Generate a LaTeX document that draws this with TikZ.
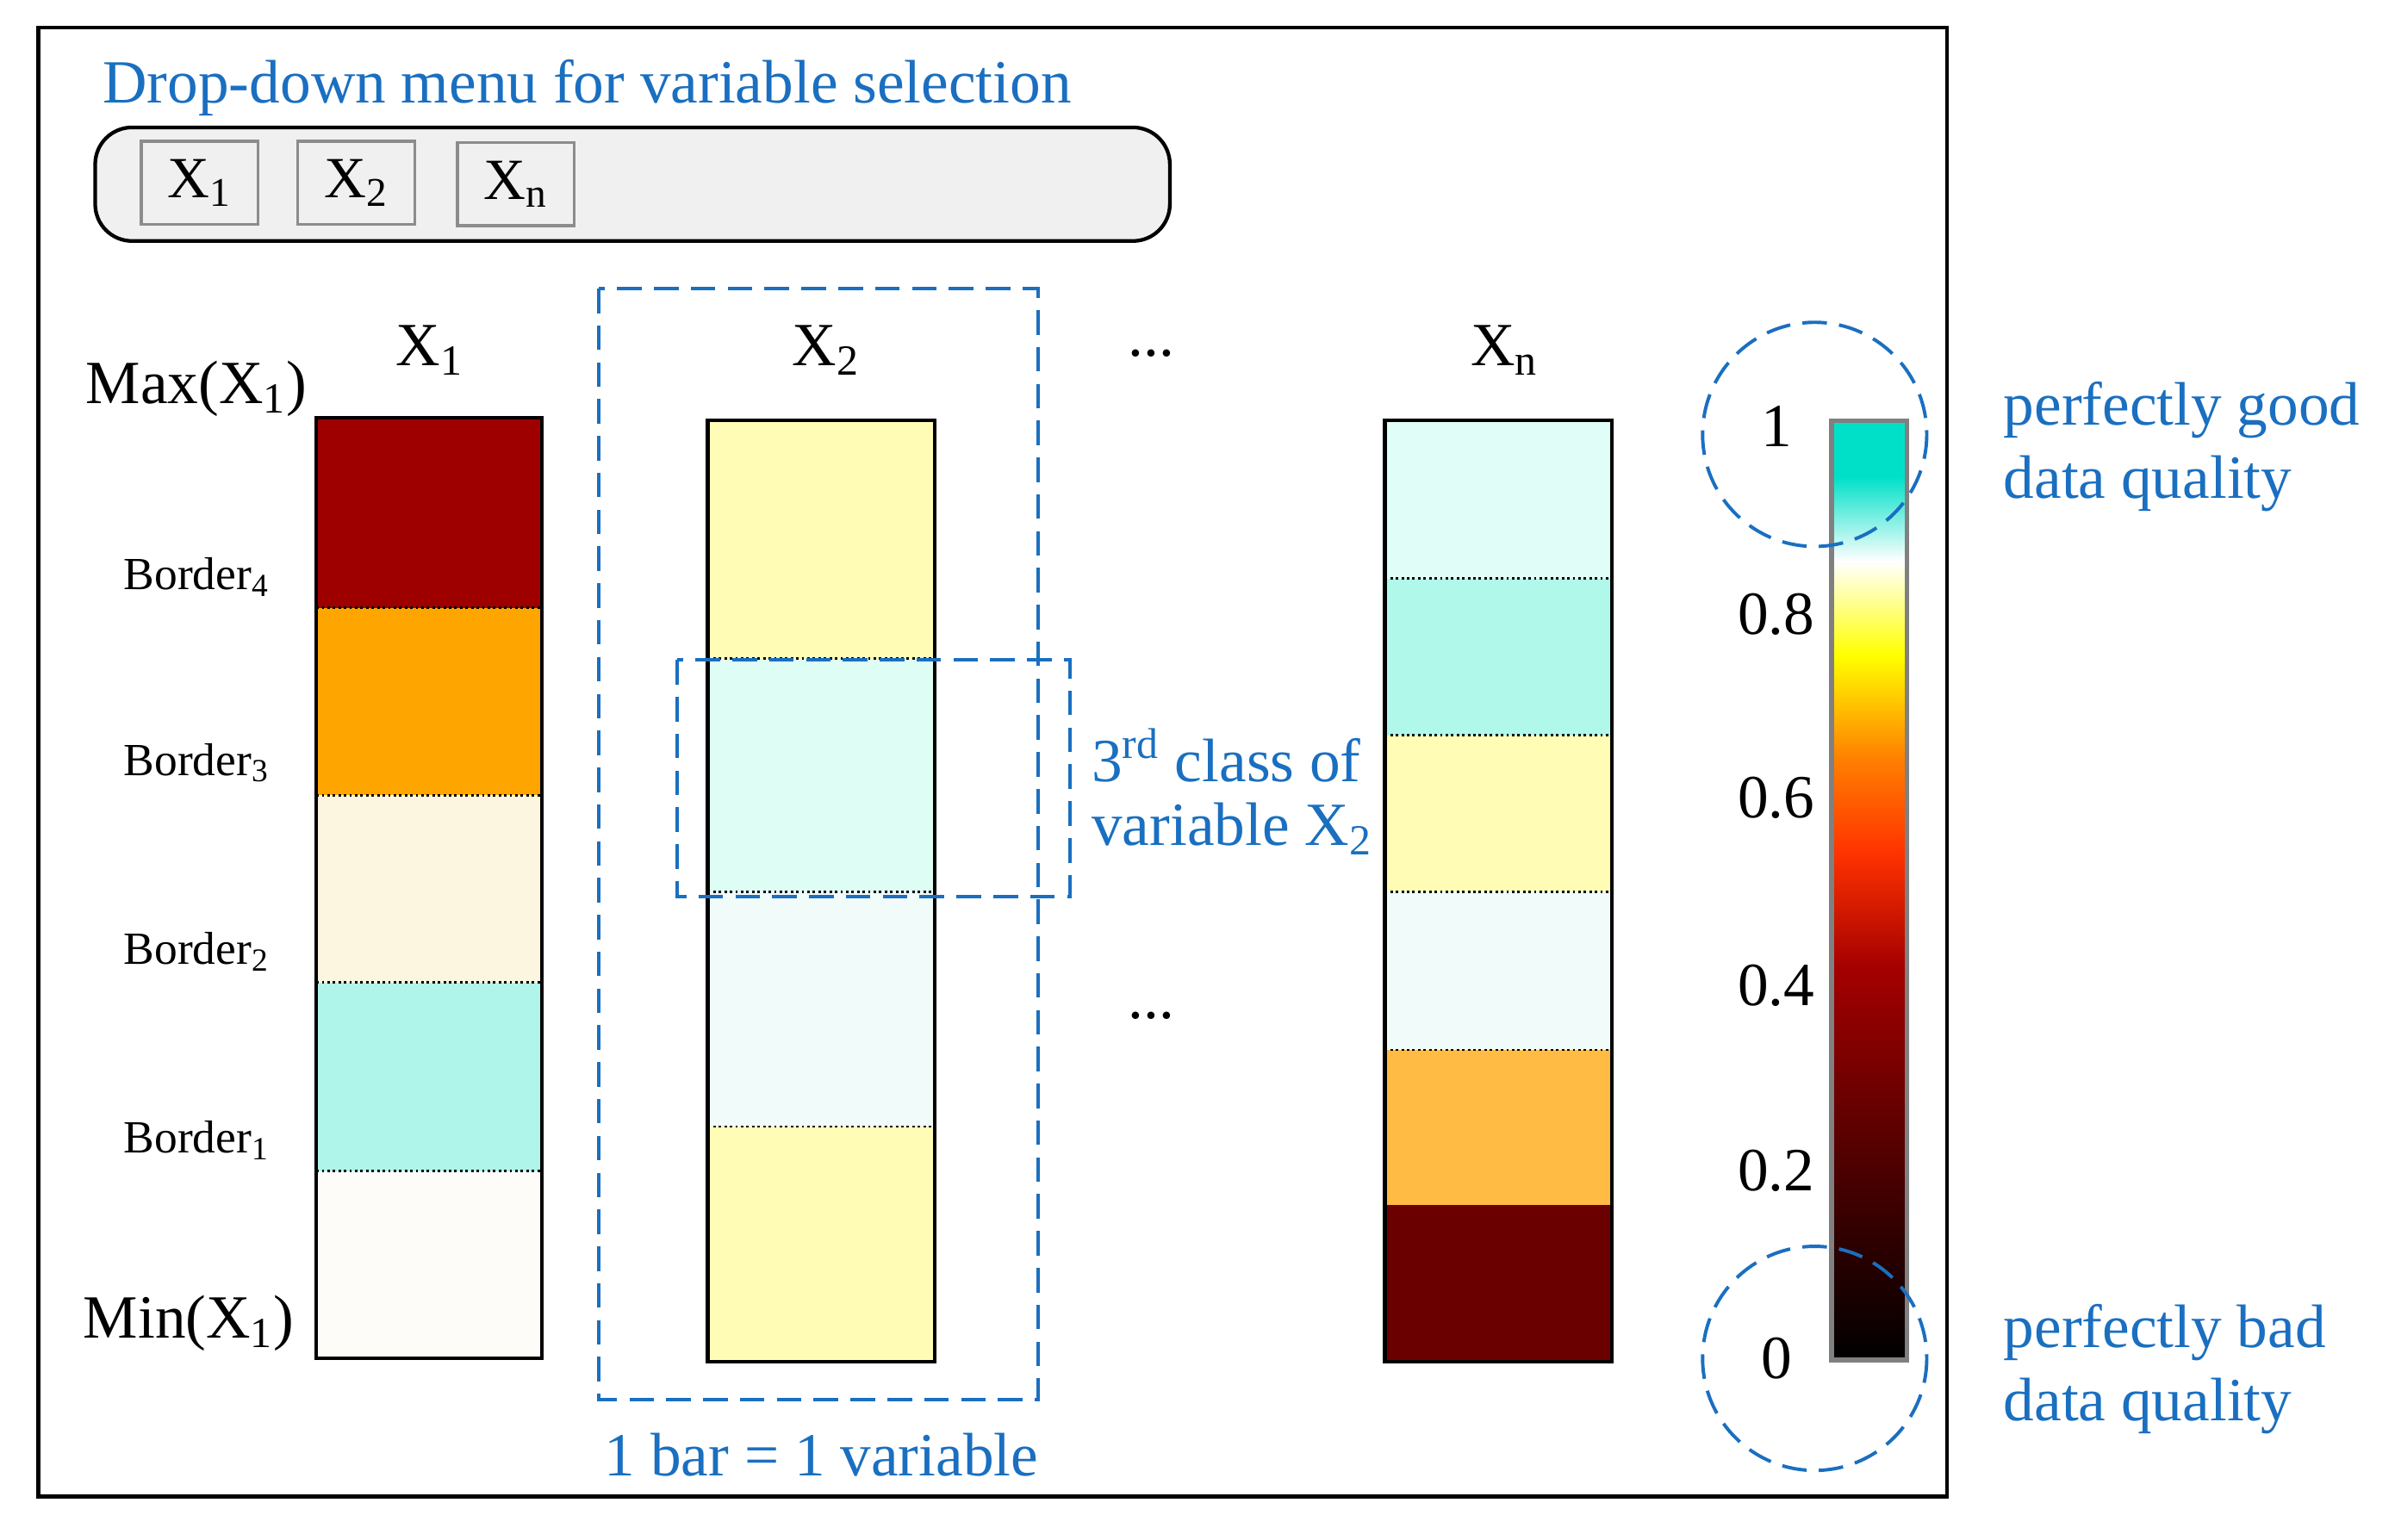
\documentclass[tikz,border=0pt]{standalone}
\usepackage{fontspec}
\setmainfont{Liberation Serif}
\definecolor{bl}{HTML}{1A6FC0}
\definecolor{teal1}{HTML}{00E0C8}
\pgfdeclareverticalshading{cbar}{100bp}{color(0bp)=(black); color(25bp)=(black); color(32bp)=(black!80!red); color(40bp)=(red!45!black); color(46bp)=(red!65!black); color(52bp)=(red!60!orange); color(57bp)=(orange); color(62.5bp)=(yellow); color(67.5bp)=(white); color(72bp)=(teal1); color(75bp)=(teal1); color(100bp)=(teal1)}
\tikzset{
  div/.style={densely dotted, line width=0.8pt},
  barframe/.style={draw=black, line width=1.2pt},
  dbox/.style={draw=bl, line width=1.1pt, dash pattern=on 8pt off 4pt},
  lab/.style={font=\fontsize{20}{22}\selectfont},
  blab/.style={font=\fontsize{15}{17}\selectfont},
  btxt/.style={text=bl, font=\fontsize{20}{24}\selectfont},
  sel/.style={draw=gray!90, line width=0.9pt, minimum width=38pt, minimum height=27pt, font=\fontsize{19}{20}\selectfont}
}
\begin{document}
\begin{tikzpicture}[x=0.5pt,y=-0.5pt]
\useasboundingbox (0,0) rectangle (1560,1003);
\draw[line width=1.2pt] (25,18) rectangle (1268,975);
\node[btxt, anchor=west] (title) at (60,57) {Drop-down menu for variable selection};
\draw[line width=1.2pt, fill=gray!12, rounded corners=12pt] (62,83) rectangle (762,157);
\node[sel] (s1) at (130,119) {X\textsubscript{1}};
\node[sel] (s2) at (232,119) {X\textsubscript{2}};
\node[sel] (s3) at (336,120) {X\textsubscript{n}};
\node[lab] (l1) at (280,228) {X\textsubscript{1}};
\node[lab] (l2) at (538,228) {X\textsubscript{2}};
\node[lab] (ld) at (750,230) {...};
\node[lab] (ln) at (980,228) {X\textsubscript{n}};
\node[lab] (mx) at (128,253) {Max(X\textsubscript{1})};
\node[lab] (mn) at (123,862) {Min(X\textsubscript{1})};
\node[blab] (b4) at (128,376) {Border\textsubscript{4}};
\node[blab] (b3) at (128,497) {Border\textsubscript{3}};
\node[blab] (b2) at (128,620) {Border\textsubscript{2}};
\node[blab] (b1) at (128,743) {Border\textsubscript{1}};
\fill[fill={rgb,255:red,158;green,0;blue,0}] (206,272) rectangle (353,396);
\fill[fill={rgb,255:red,255;green,165;blue,0}] (206,396) rectangle (353,518);
\fill[fill={rgb,255:red,252;green,245;blue,224}] (206,518) rectangle (353,640);
\fill[fill={rgb,255:red,176;green,245;blue,234}] (206,640) rectangle (353,763);
\fill[fill={rgb,255:red,253;green,252;blue,248}] (206,763) rectangle (353,885);
\foreach \y in {396,518,640,763} \draw[div] (206,\y) -- (353,\y);
\draw[barframe] (206,272) rectangle (353,885);
\fill[fill={rgb,255:red,255;green,253;blue,181}] (461,274) rectangle (609,429);
\fill[fill={rgb,255:red,222;green,253;blue,245}] (461,429) rectangle (609,581);
\fill[fill={rgb,255:red,240;green,251;blue,250}] (461,581) rectangle (609,734);
\fill[fill={rgb,255:red,255;green,253;blue,181}] (461,734) rectangle (609,887);
\foreach \y in {429,581,734} \draw[div] (461,\y) -- (609,\y);
\draw[barframe] (461,274) rectangle (609,887);
\fill[fill={rgb,255:red,224;green,253;blue,248}] (902,274) rectangle (1050,377);
\fill[fill={rgb,255:red,176;green,248;blue,234}] (902,377) rectangle (1050,479);
\fill[fill={rgb,255:red,255;green,253;blue,181}] (902,479) rectangle (1050,581);
\fill[fill={rgb,255:red,240;green,251;blue,250}] (902,581) rectangle (1050,684);
\fill[fill={rgb,255:red,255;green,187;blue,68}] (902,684) rectangle (1050,785);
\fill[fill={rgb,255:red,107;green,0;blue,0}] (902,785) rectangle (1050,887);
\foreach \y in {377,479,581,684} \draw[div] (902,\y) -- (1050,\y);
\draw[barframe] (902,274) rectangle (1050,887);
\draw[dbox] (390,188) rectangle (676,912);
\draw[dbox] (441,430) rectangle (697,584);
\node[btxt, anchor=west] (c1) at (704,492) {3\textsuperscript{rd} class of};
\node[btxt, anchor=west] (c2) at (704,540) {variable X\textsubscript{2}};
\node[btxt] (bv) at (535,948) {1 bar = 1 variable};
\node[lab] (ld2) at (750,662) {...};
\shade[shading=cbar] (1193,274) rectangle (1242,886);
\draw[draw=gray, line width=1.5pt] (1193,274) rectangle (1242,886);
\foreach \v/\y in {1/278,0.8/400,0.6/520,0.4/642,0.2/763,0/885} \node[lab] at (1157,\y) {\v};
\draw[dbox] (1182,283) circle (73);
\draw[dbox] (1182,885) circle (73);
\node[btxt, anchor=west, align=left] (pg) at (1298,291) {perfectly good\\data quality};
\node[btxt, anchor=west, align=left] (pb) at (1298,892) {perfectly bad\\data quality};
\end{tikzpicture}
\end{document}
